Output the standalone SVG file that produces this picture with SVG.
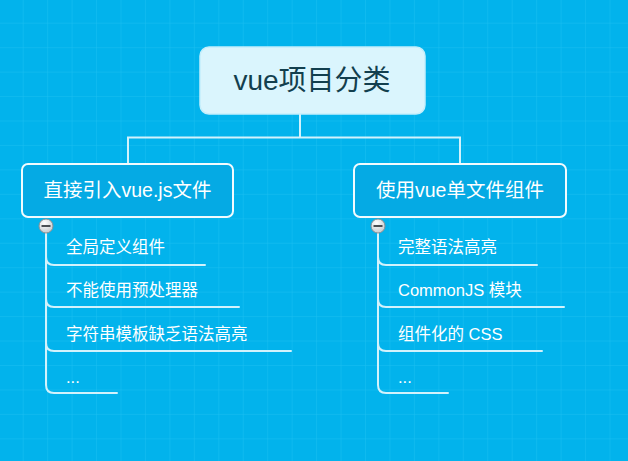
<svg xmlns="http://www.w3.org/2000/svg" width="628" height="461" viewBox="0 0 628 461">
<defs>
<pattern id="grid" x="22.7" y="22.7" width="24.45" height="24.45" patternUnits="userSpaceOnUse">
<path d="M0 0H24.45M0 0V24.45" fill="none" stroke="#1BC0F2" stroke-width="1"/>
</pattern>
<radialGradient id="btn" cx="0.4" cy="0.3" r="0.8">
<stop offset="0" stop-color="#FFFFFF"/>
<stop offset="1" stop-color="#BFC4C8"/>
</radialGradient>
<style>
.bg{fill:#02B3EC}
.conn{fill:none;stroke:#D2F2FC;stroke-width:2;stroke-linecap:round}
.root{fill:#DAF5FD;stroke:#C4EEFB;stroke-width:1.5}
.main{fill:#05AAE4;stroke:#F2FBFE;stroke-width:2}
.t-root{font-family:"Liberation Sans","Noto Sans CJK SC",sans-serif;font-size:28px;fill:#123F4E;text-anchor:middle}
.t-main{font-family:"Liberation Sans","Noto Sans CJK SC",sans-serif;font-size:19.5px;fill:#FFFFFF;text-anchor:middle}
.t-sub{font-family:"Liberation Sans","Noto Sans CJK SC",sans-serif;font-size:16.5px;fill:#FFFFFF}
.btn{fill:url(#btn);stroke:#8A9095;stroke-width:1}
.minus{stroke:#4A4F54;stroke-width:2}
</style>
</defs>
<rect class="bg" x="0" y="0" width="628" height="461"/>
<rect x="0" y="0" width="628" height="461" fill="url(#grid)"/>
<g id="connectors">
<path class="conn" d="M300 114V137.5M128 164V137.5H460V164"/>
<path class="conn" d="M46 226V257Q46 265 54 265H205"/>
<path class="conn" d="M46 226V299Q46 307 54 307H239"/>
<path class="conn" d="M46 226V343Q46 351 54 351H291"/>
<path class="conn" d="M46 226V385Q46 393 54 393H117"/>
<path class="conn" d="M378 226V257Q378 265 386 265H537"/>
<path class="conn" d="M378 226V299Q378 307 386 307H564"/>
<path class="conn" d="M378 226V343Q378 351 386 351H542"/>
<path class="conn" d="M378 226V385Q378 393 386 393H448"/>
</g>
<g id="root">
<rect class="root" x="200" y="47" width="225" height="67" rx="9"/>
<text class="t-root" x="312" y="90">vue项目分类</text>
</g>
<g id="left">
<rect class="main" x="22" y="164" width="211" height="53" rx="6"/>
<text class="t-main" x="127.5" y="197">直接引入vue.js文件</text>
<circle class="btn" cx="46" cy="226" r="7"/>
<line class="minus" x1="41.5" y1="226" x2="50.5" y2="226"/>
</g>
<g id="right">
<rect class="main" x="354" y="164" width="212" height="53" rx="6"/>
<text class="t-main" x="460" y="197">使用vue单文件组件</text>
<circle class="btn" cx="378" cy="226" r="7"/>
<line class="minus" x1="373.5" y1="226" x2="382.5" y2="226"/>
</g>
<g id="l1"><text class="t-sub" x="66" y="253">全局定义组件</text></g>
<g id="l2"><text class="t-sub" x="66" y="296">不能使用预处理器</text></g>
<g id="l3"><text class="t-sub" x="66" y="340">字符串模板缺乏语法高亮</text></g>
<g id="l4"><text class="t-sub" x="66" y="383">...</text></g>
<g id="r1"><text class="t-sub" x="398" y="253">完整语法高亮</text></g>
<g id="r2"><text class="t-sub" x="398" y="296">CommonJS 模块</text></g>
<g id="r3"><text class="t-sub" x="398" y="340">组件化的 CSS</text></g>
<g id="r4"><text class="t-sub" x="398" y="383">...</text></g>
</svg>
